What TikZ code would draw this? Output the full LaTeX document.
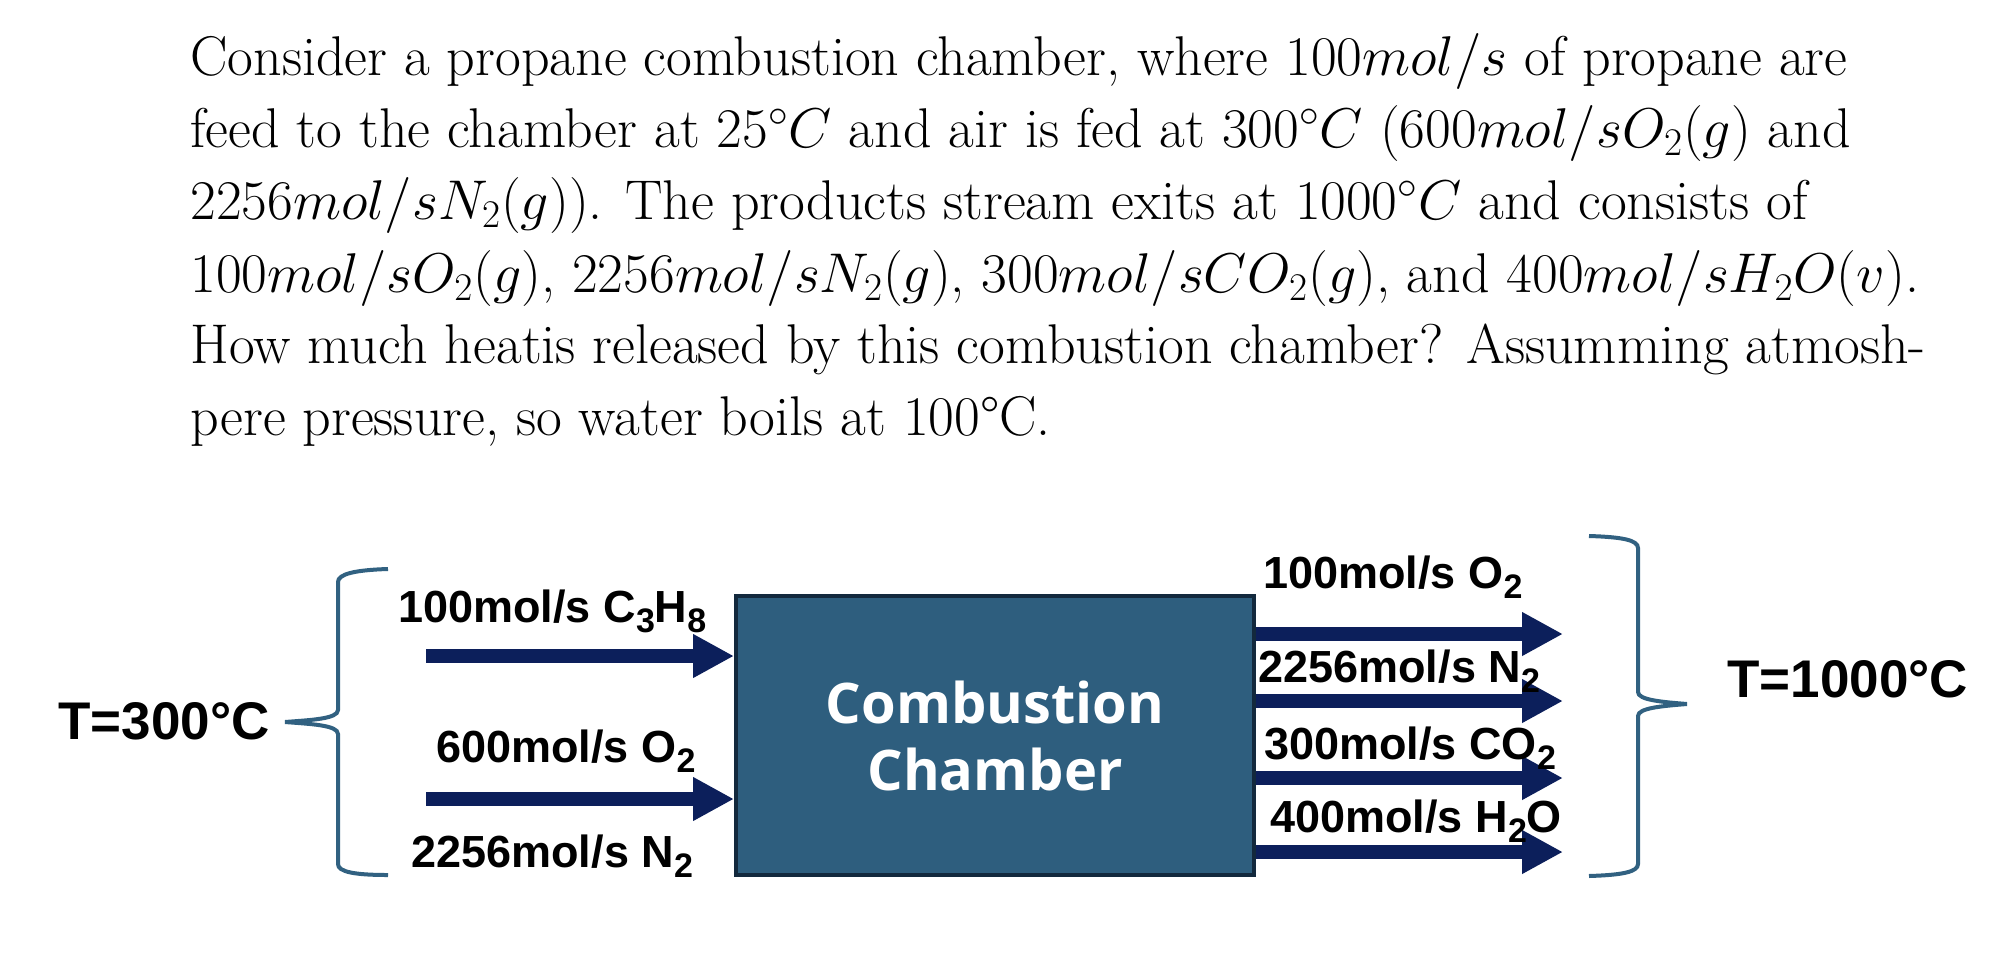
\RequirePackage{fix-cm}
\documentclass[tikz,border=0pt]{standalone}
\usepackage[no-math]{fontspec}
\newfontfamily\labelfont{Liberation Sans}
\newfontfamily\boxfont{Open Sans}
\usepackage{tikz}
\usetikzlibrary{arrows.meta}
\definecolor{flowblue}{RGB}{12,31,91}
\definecolor{boxfill}{RGB}{46,94,126}
\definecolor{boxedge}{RGB}{19,41,61}
\definecolor{bracecol}{RGB}{49,97,129}
\newcommand{\lowsub}[1]{\raisebox{-5pt}{\fontsize{17}{17}\selectfont #1}}
\tikzstyle{chamber box}=[
    draw = boxedge,
    line width = 2pt,
    fill = boxfill,
    text = white,
    minimum width = 259pt,
    minimum height = 139.5pt,
    align = center,
    font = \boxfont\bfseries\fontsize{28}{33.5}\selectfont
]

\begin{document}
\begin{tikzpicture}[x=0.5pt, y=-0.5pt,
    para/.style = {anchor=base west, inner sep=0pt, font=\fontsize{28}{36}\selectfont},
    stream/.style = {anchor=base west, inner sep=0pt, font=\labelfont\bfseries\fontsize{22.5}{26}\selectfont},
    temp/.style = {anchor=base west, inner sep=0pt, font=\labelfont\bfseries\fontsize{26.5}{30}\selectfont},
    flow/.style = {draw=flowblue, line width=7pt, -{Triangle[length=20.5pt, width=20.5pt]}},
    brace/.style = {draw=bracecol, line width=2pt}]
        \fill[white] (0,0) rectangle (2004,960);
        \useasboundingbox (0,0) rectangle (2004,960);

        % question text
        \node[para] (line1) at (190,75) {Consider a propane combustion chamber, where $100mol/s$ of propane are};
        \node[para] (line2) at (190,147) {feed to the chamber at $25^{\circ}C$ and air is fed at $300^{\circ}C$ $(600mol/sO_2(g)$ and};
        \node[para] (line3) at (190,219) {$2256mol/sN_2(g))$. The products stream exits at $1000^{\circ}C$ and consists of};
        \node[para] (line4) at (190,292) {$100mol/sO_2(g)$, $2256mol/sN_2(g)$, $300mol/sCO_2(g)$, and $400mol/sH_2O(v)$.};
        \node[para] (line5) at (190,363) {How much heatis released by this combustion chamber? Assumming atmosh-};
        \node[para] (line6) at (190,435) {pere pressure, so water boils at 100°C.};

        % chamber
        \node[chamber box] (chamber) at (995,735.5) {Combustion\\Chamber};

        % feeds
        \coordinate (in1) at (426,656);
        \coordinate (in2) at (426,799);
        \draw[flow] (in1) -- (in1 -| chamber.west);
        \draw[flow] (in2) -- (in2 -| chamber.west);

        % products
        \coordinate (out1) at (1563,634);
        \coordinate (out2) at (1563,701);
        \coordinate (out3) at (1563,778);
        \coordinate (out4) at (1563,852);
        \draw[flow] (chamber.east |- out1) -- (out1);
        \draw[flow] (chamber.east |- out2) -- (out2);
        \draw[flow] (chamber.east |- out3) -- (out3);
        \draw[flow] (chamber.east |- out4) -- (out4);

        \node[stream] (feed1) at (398,622) {100mol/s C\lowsub{3}H\lowsub{8}};
        \node[stream] (feed2) at (436,762) {600mol/s O\lowsub{2}};
        \node[stream] (feed3) at (411,867) {2256mol/s N\lowsub{2}};
        \node[stream] (prod1) at (1263,588) {100mol/s O\lowsub{2}};
        \node[stream] (prod2) at (1258,682) {2256mol/s N\lowsub{2}};
        \node[stream] (prod3) at (1264,759) {300mol/s CO\lowsub{2}};
        \node[stream] (prod4) at (1270,832) {400mol/s H\lowsub{2}O};

        % braces and temperatures
        \draw[brace] (388,569) .. controls (355,570) and (338,574) .. (338,582) -- (338,710)
            .. controls (338,719) and (310,720) .. (285,722)
            .. controls (310,724) and (338,725) .. (338,734) -- (338,864)
            .. controls (338,872) and (355,875) .. (388,875);
        \draw[brace] (1589,536) .. controls (1622,537) and (1638,540) .. (1638,548) -- (1638,692)
            .. controls (1638,700) and (1662,702) .. (1687,704)
            .. controls (1662,706) and (1638,708) .. (1638,716) -- (1638,864)
            .. controls (1638,872) and (1622,875) .. (1589,876);
        \node[temp] (tin) at (58,739) {T=300°C};
        \node[temp] (tout) at (1727,697) {T=1000°C};

    \end{tikzpicture}
\end{document}
